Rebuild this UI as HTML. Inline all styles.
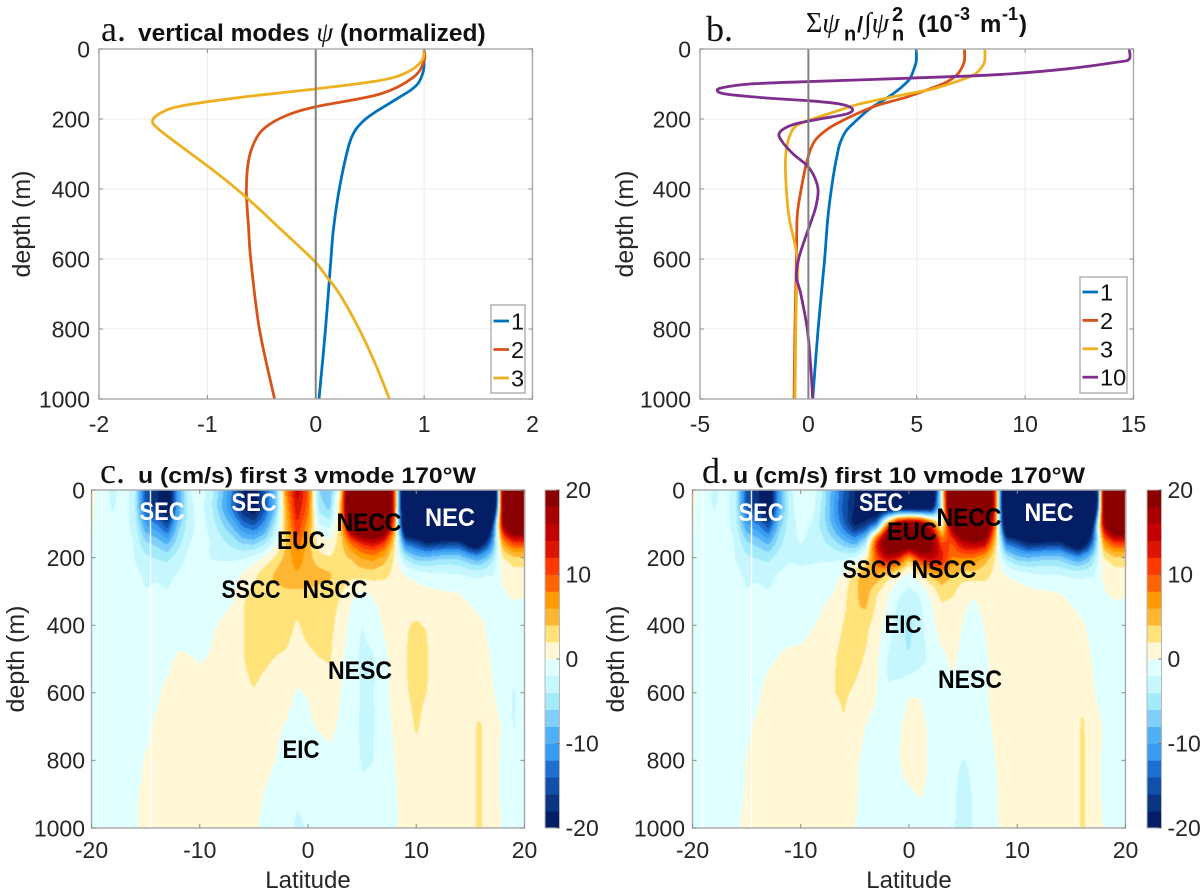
<!DOCTYPE html>
<html lang="en">
<head>
<meta charset="utf-8">
<title>Vertical modes and zonal velocity sections at 170W</title>
<style>
html,body{margin:0;padding:0;background:#fff;}
svg{display:block;font-family:"Liberation Sans",Arial,sans-serif;}
.lab{font-weight:bold;font-size:25px;text-anchor:middle;dominant-baseline:central;}
.blk{fill:#000;}
.wht{fill:#fff;}
.ttl{font-weight:bold;fill:#111;}
.ser{font-family:"Liberation Serif",serif;fill:#111;}
</style>
</head>
<body>
<svg id="figure" xmlns="http://www.w3.org/2000/svg" width="1200" height="895" viewBox="0 0 1200 895">
  <rect x="0" y="0" width="1200" height="895" fill="#fff"/>
  <g id="panel-a"></g>
  <g id="panel-b"></g>
  <g id="panel-c"></g>
  <g id="panel-d"></g>

  <text class="ser" x="101" y="41" font-size="36">a.</text>
  <text class="ttl" x="138" y="41" font-size="24.5">vertical modes <tspan class="ser" font-style="italic" font-weight="normal" font-size="27">ψ</tspan> (normalized)</text>

  <text class="ser" x="706" y="41" font-size="36">b.</text>
  <g>
    <text class="ser" x="806" y="32" font-size="28">Σ<tspan font-style="italic">ψ</tspan></text>
    <text class="ttl" x="844" y="40.5" font-size="20">n</text>
    <text class="ttl" x="857" y="32" font-size="22">/</text>
    <text class="ser" x="864" y="32" font-size="28">∫<tspan font-style="italic">ψ</tspan></text>
    <text class="ttl" x="892" y="21" font-size="20">2</text>
    <text class="ttl" x="892" y="40.5" font-size="20">n</text>
    <text class="ttl" x="918" y="32" font-size="24">(10</text>
    <text class="ttl" x="954" y="20" font-size="18">-3</text>
    <text class="ttl" x="980" y="32" font-size="24">m</text>
    <text class="ttl" x="1002" y="20" font-size="18">-1</text>
    <text class="ttl" x="1019" y="32" font-size="24">)</text>
  </g>

  <text class="ser" x="100" y="483" font-size="36">c.</text>
  <text class="ttl" x="138" y="483" font-size="22" textLength="338" lengthAdjust="spacingAndGlyphs">u (cm/s) first 3 vmode 170°W</text>

  <text class="ser" x="702" y="483" font-size="36">d.</text>
  <text class="ttl" x="733" y="483" font-size="22" textLength="352" lengthAdjust="spacingAndGlyphs">u (cm/s) first 10 vmode 170°W</text>

  <g id="labels">
    <text class="lab wht" x="162" y="512" textLength="45" lengthAdjust="spacingAndGlyphs">SEC</text>
    <text class="lab wht" x="254" y="503" textLength="45" lengthAdjust="spacingAndGlyphs">SEC</text>
    <text class="lab blk" x="301" y="541" textLength="48" lengthAdjust="spacingAndGlyphs">EUC</text>
    <text class="lab blk" x="251" y="590" textLength="59" lengthAdjust="spacingAndGlyphs">SSCC</text>
    <text class="lab blk" x="335" y="590" textLength="65" lengthAdjust="spacingAndGlyphs">NSCC</text>
    <text class="lab blk" x="369" y="523" textLength="65" lengthAdjust="spacingAndGlyphs">NECC</text>
    <text class="lab wht" x="450" y="518" textLength="50" lengthAdjust="spacingAndGlyphs">NEC</text>
    <text class="lab blk" x="360" y="671" textLength="64" lengthAdjust="spacingAndGlyphs">NESC</text>
    <text class="lab blk" x="301" y="750" textLength="37" lengthAdjust="spacingAndGlyphs">EIC</text>
    <text class="lab wht" x="761" y="513" textLength="45" lengthAdjust="spacingAndGlyphs">SEC</text>
    <text class="lab wht" x="881" y="503" textLength="44" lengthAdjust="spacingAndGlyphs">SEC</text>
    <text class="lab blk" x="912" y="532" textLength="50" lengthAdjust="spacingAndGlyphs">EUC</text>
    <text class="lab blk" x="872" y="570" textLength="59" lengthAdjust="spacingAndGlyphs">SSCC</text>
    <text class="lab blk" x="944" y="570" textLength="65" lengthAdjust="spacingAndGlyphs">NSCC</text>
    <text class="lab blk" x="969" y="518" textLength="65" lengthAdjust="spacingAndGlyphs">NECC</text>
    <text class="lab wht" x="1049" y="513" textLength="49" lengthAdjust="spacingAndGlyphs">NEC</text>
    <text class="lab blk" x="903" y="625" textLength="37" lengthAdjust="spacingAndGlyphs">EIC</text>
    <text class="lab blk" x="970" y="680" textLength="64" lengthAdjust="spacingAndGlyphs">NESC</text>
  </g>
</svg>

<script>
// ---------- panel a data: vertical modes ----------
const mode1Depth = [0,40,60,80,100,119,140,162,180,200,220,240,281,395,510,600,800,1000];
const mode1Value = [1,1,.995,.975,.94,.87,.76,.645,.55,.46,.395,.35,.3,.22,.165,.14,.09,.03];
const mode2Depth = [0,33,81,129,165,190,224,262,319,405,510,600,800,1000];
const mode2Value = [1,1,.9,.59,0,-.27,-.465,-.56,-.62,-.64,-.62,-.6,-.52,-.38];
const mode3Depth = [0,33,67,90,114,138,162,181,205,229,281,348,424,519,565,610,650,700,800,900,1000];
const mode3Value = [1,.98,.84,.59,0,-.69,-1.23,-1.42,-1.506,-1.45,-1.23,-.94,-.64,-.31,-.15,0,.1,.22,.4,.55,.68];
const modeXTicks = [-2,-1,0,1,2];
const depthTicks = [0,200,400,600,800,1000];

// ---------- panel b data: normalized sums ----------
const sum1Depth = [0,33,52,86,114,138,171,205,233,260,290,367,481,600,800,1000];
const sum1Value = [4.98,4.98,4.9,4.67,4.2,3.67,2.83,2.2,1.75,1.52,1.37,1.14,.9,.75,.45,.2];
const sum2Depth = [0,33,57,76,95,114,138,162,190,219,240,262,290,320,348,424,481,600,800,1000];
const sum2Value = [7.2,7.2,7.05,6.82,6.36,5.6,4.5,3.13,2.06,1.14,.65,.3,.08,-.06,-.17,-.4,-.52,-.55,-.62,-.66];
const sum3Depth = [0,33,52,73,90,114,133,157,181,200,219,248,300,376,481,600,700,800,1000];
const sum3Value = [8.14,8.14,8,7.66,6.97,5.74,4.2,2.37,1.14,.2,-.55,-.86,-1.04,-1.04,-.89,-.5,-.55,-.58,-.62];
const sum10Depth = [0,29,38,57,73,83,93,100,110,119,129,140,148,157,171,186,200,216,238,262,300,333,367,405,452,490,550,600,650,700,800,900,1000];
const sum10Value = [14.8,14.8,14.2,11.9,8.8,4.8,.06,-2.7,-3.93,-4.2,-3.78,-1.94,.06,1.44,2.03,1.75,.52,-.7,-1.32,-1.24,-.7,-.06,.29,.45,.34,.14,-.2,-.45,-.55,-.35,-.05,.1,.2];
const sumXTicks = [-5,0,5,10,15];

// ---------- panels c, d data: zonal velocity (cm/s) ----------
const latTicks = [-20,-10,0,10,20];
const colorbarTicks = [20,10,0,-10,-20];
const gapLatitudes = [-19.05,-14.55];
const latitudes = [-20,-19,-18,-17,-16,-15,-14,-13,-12,-11,
  -10,-9,-8,-7,-6,-5,-4,-3,-2,-1,
  0,1,2,3,4,5,6,7,8,9,
  10,11,12,13,14,15,
  15.6,16,16.5,17,18,19,20];
const depths = [0,50,100,150,200,250,300,350,400,500,600,700,800,900,1000];

const velocityThreeModes = [
[.6,-1,-2.6,-1,-3,-15,-17,-22,-10,-2.1, -1,-3,-7,-12,-18,-20,-14,-8,8,15, 10,-6,-8,2,30,40,40,40,10,-35, -40,-40,-40,-40,-40,-40, -38,-38,-35,-45,20,40,40],
[.3,-1,-2.3,-1,-3.5,-15,-18,-22,-10,-2.8, -1,-3.5,-8,-13,-19,-21,-15,-8,6,14, 9,-5,-7,4,35,40,40,40,10,-35, -40,-40,-40,-40,-40,-40, -38,-38,-35,-40,20,40,40],
[.2,-1,-1.5,-1,-3,-10,-12,-16,-7,-3, -1.2,-2.6,-5.5,-8.5,-13,-15,-11,-4,5,12, 7,-2,-3,3,25,35,35,30,8,-30, -32,-32,-30,-30,-30,-30, -32,-30,-28,-18,18,30,30],
[.1,-1,-1,-1,-2.2,-6,-7,-9,-5,-2.2, -1.2,-2,-3.5,-5,-7,-7.5,-5.5,-1.5,4,10, 5,1,.5,3,9,13,15,12,3,-14, -16,-20,-19,-18,-18,-24, -26,-22,-18,-12,7,12,12],
[-.5,-1,-1,-1,-2.1,-3.5,-4,-4.5,-3,-1.5, -1.1,-2.2,-2.3,-2.3,-2,-1,.5,2.5,5,7, 5,2.5,2,3,4,6,6.5,5,1.5,-4, -7,-7,-6,-5.5,-6,-8, -9,-8.5,-7,-5,1.5,3,3],
[-1,-1,-1,-1,-1.5,-2.3,-2.5,-2.6,-1.8,-1, -1,-1,-1,-.8,.3,1.5,3.4,4.6,5.5,5.8, 5.5,5,4.6,3.4,2.6,2.8,3,2.5,1.5,.2, -.5,-1,-1.5,-1.6,-1.7,-2, -2.2,-2.3,-1.8,-2,.4,1.2,1.2],
[-.8,-.8,-.8,-.8,-1,-2,-1.5,-2,-1,-.8, -.8,-.7,-.5,-.5,1.7,2.4,2.8,3.5,3.6,3.7, 3.6,3.3,3,2.2,.5,-.3,.2,1,1,.8, .6,.4,.3,.2,.1,-.3, -.4,-.6,-.6,-.8,-.1,.3,.1],
[-.7,-.7,-.7,-.7,-.7,-1,-1,-.9,-.7,-.7, -.6,-.5,-.3,.1,2,2.6,2.9,3.2,3.3,2.5, 3.2,3.3,3,1.5,-.2,-1,-.4,.4,.8,1.2, 1,.6,.4,.3,.2,.1, -.1,-.2,-.3,-.5,-.4,-.2,-.3],
[-.7,-.7,-.7,-.7,-.7,-.7,-.7,-.7,-.6,-.6, -.5,-.2,.2,.7,1.9,2.8,3.1,3.1,2.7,1.7, 2.7,3,2.7,1,-.6,-2.1,-.9,.2,.9,1.8, 2.4,1.9,.7,.5,.4,.3, .2,.2,-.1,-.3,-.5,-.6,-.6],
[-.6,-.6,-.6,-.6,-.6,-.6,-.6,-.3,.2,.1, -.1,.1,.6,1,1.9,2.8,2.4,1.9,1.7,1.2, 1.5,1.95,2.2,.4,-1,-2.5,-2.4,-.5,.7,1.9, 2.8,2.2,.8,.6,.5,.6, .5,.4,.2,-.1,-.5,-1,-.6],
[-.5,-.5,-.5,-.5,-.5,-.5,-.2,.3,.5,.5, .5,.5,.6,.8,1.4,1.9,1.2,.8,.5,-.2, .05,.6,1,0,-1,-2.2,-2.2,-.5,.5,1.8, 2.6,2,.7,.7,.7,.7, 1,1,.6,.1,-.5,-2.3,-.8],
[-.4,-.4,-.4,-.4,-.4,-.3,.2,.4,.5,.5, .5,.5,.5,.5,.5,.5,.4,.2,-.1,-.7, -.2,.1,.3,-.2,-1.1,-2.4,-2.3,-.6,.2,.9, 2.3,1.2,.8,.8,.8,.8, 2.2,2.2,.8,.5,-.1,-2.2,-.6],
[-.4,-.4,-.4,-.4,-.4,.1,.3,.3,.3,.3, .3,.3,.3,.3,.3,.3,.3,0,-.5,-.8, -.6,-.5,-.3,-.4,-1,-2.2,-2.05,-.7,0,.5, 1.2,.8,.7,.7,.7,.7, 2.2,2.2,.8,.4,-.2,-1,-.5],
[-.4,-.4,-.4,-.4,-.1,.2,.3,.3,.3,.3, .3,.3,.3,.3,.3,.3,-.05,-.4,-.6,-1.6, -1,-.8,-.7,-.7,-.9,-1.7,-1.5,-.8,-.1,.3, .6,.6,.7,.7,.7,.7, 2.2,2.2,.7,.4,-.2,-.6,-.4],
[-.4,-.4,-.4,-.4,-.1,.2,.3,.3,.3,.3, .3,.3,.3,.3,.3,.1,-.2,-.6,-1.2,-2.5, -1.9,-1,-.9,-.8,-.8,-1.2,-1,-.7,-.1,.2, .5,.6,.7,.7,.7,.7, 2.2,2.2,.7,.4,-.05,-.4,-.4]
];

const velocityTenModes = [
[.6,-1,-2.5,-1.2,-3,-15,-17,-22,-10,-3, .3,-.6,-4,-9,-14,-18,-24,-26,-32,-36, -36,-36,-30,-2,35,40,40,40,10,-35, -40,-40,-40,-40,-40,-40, -38,-38,-35,-45,20,40,40],
[.3,-1,-2.2,-1.2,-3.5,-15,-18,-22,-10,-3, -.6,-.8,-4.5,-10,-15,-18,-21,-24,-26,-26, -28,-28,-26,-3,35,40,40,40,10,-35, -40,-40,-40,-40,-40,-40, -38,-38,-35,-40,20,40,40],
[.2,-1,-1.7,-1.2,-3,-10,-12,-16,-7,-2.8, -1.4,-2.2,-5,-9,-14,-20,-18,-14,8,22, 26,24,14,-1.5,20,35,35,30,8,-30, -32,-32,-30,-30,-30,-30, -32,-30,-28,-18,18,30,30],
[.1,-1,-1,-1,-2.2,-6,-7,-9,-5,-2.4, -1.9,-2.4,-3.5,-5.5,-8,-10,-5,14,26,30, 30,30,22,10,10,16,18,17,4,-14, -16,-20,-20,-19,-19,-24, -27,-24,-20,-13,7,12,12],
[-.5,-1,-1,-1,-2.1,-3.5,-4,-4.5,-3,-2.2, -2.4,-2.4,-2.3,-2.4,-2.2,-1.5,1,10,16,13, 4,13,16,14,8,8,7.5,5,1.5,-4, -7,-7.5,-6.5,-6,-6.5,-8.5, -10,-9,-7.5,-5,1.5,3,3],
[-.9,-.9,-.9,-.9,-1.5,-2.3,-2.5,-2.6,-1.8,-1.5, -1.6,-1.4,-1.2,-.8,.3,3,6.5,6,3,.6, -.8,1.5,4,6,4,3,3,2.7,1.5,.2, -.5,-1,-1.7,-1.8,-1.9,-2.3, -2.4,-2.3,-2,-2.1,.4,1.2,1.2],
[-.8,-.8,-.8,-.8,-1,-2,-1.5,-2,-1.2,-1, -.9,-.8,-.6,-.1,1.4,3.5,5,2.2,.3,-1.6, -2.5,-1.8,.5,2.8,2.5,.8,.2,.9,1,.8, .6,.4,.3,.2,.1,-.3, -.4,-.6,-.6,-.8,-.1,.3,.1],
[-.7,-.7,-.7,-.7,-.7,-1,-1,-.9,-.7,-.7, -.7,-.6,0,.6,1.6,3.9,4.2,1.6,-.1,-2.4, -3.8,-2.5,-.5,1.6,1.2,.2,-.4,.4,.8,1.2, 1,.6,.4,.3,.2,.1, -.1,-.2,-.3,-.5,-.4,-.2,-.3],
[-.7,-.7,-.7,-.7,-.7,-.7,-.7,-.7,-.6,-.5, -.4,-.1,.3,.8,2.2,3,2.5,1,-.8,-3, -4.8,-2.6,-.8,1,.8,-.1,-.8,.1,.8,1.2, 1,.7,.5,.5,.4,.3, .2,.1,-.1,-.3,-.5,-.6,-.6],
[-.6,-.6,-.6,-.6,-.6,-.6,-.6,-.2,.1,.3, .3,.5,.8,1.7,3,2.7,1.8,.4,-2.1,-3.6, -3.8,-2.6,-1.8,-.5,.4,-.5,-.9,-.3,.5,.7, .7,.7,.7,.7,.7,.7, .5,.4,.2,-.1,-.5,-.7,-.6],
[-.5,-.5,-.5,-.5,-.5,-.5,-.2,.4,.5,.5, .5,.5,.5,2,2.3,1.7,.8,.1,-2,-1, -.05,-.1,-1,-.7,-.5,-.6,-.6,-.2,.5,.7, .7,.7,.7,.7,.7,.7, .8,1.2,.7,.1,-.5,-.7,-.6],
[-.4,-.4,-.4,-.4,-.4,-.2,.2,.4,.4,.4, .4,.4,.4,.9,1.9,.5,-.05,-.5,-.7,-.2, .6,.6,-.3,-.7,-.7,-.9,-.7,-.4,.3,.7, .7,.7,.7,.7,.7,.8, 1.2,2.6,1.2,.6,-.1,-.5,-.5],
[-.4,-.4,-.4,-.4,-.4,.05,.3,.3,.3,.3, .3,.3,.3,.3,.3,.1,-.2,-.5,-.6,-.1, .6,.7,-.3,-.7,-1.4,-2.1,-1.6,-.7,0,.5, .7,.7,.7,.7,.7,.8, 1.2,2.6,1.2,.6,-.2,-.5,-.5],
[-.4,-.4,-.4,-.4,-.2,.05,.3,.3,.3,.3, .3,.3,.3,.3,.3,.1,-.3,-.5,-.6,-.4, -.2,.1,-.3,-.7,-1.6,-2.8,-1.8,-.8,-.1,.4, .7,.7,.7,.7,.7,.8, 1.2,2.6,1.2,.6,-.2,-.5,-.5],
[-.4,-.4,-.4,-.4,-.1,.2,.3,.3,.3,.3, .3,.3,.3,.3,.3,.05,-.4,-.6,-.7,-.7, -.7,-.6,-.6,-.8,-1.6,-3,-1.8,-.8,-.1,.2, .4,.5,.7,.7,.7,.8, 1.2,2.6,1.2,.5,-.05,-.4,-.4]
];

const bandColors = ['#041e66','#0a3580','#1050a8','#1f6fd0','#3a9cf0','#50b0f5','#80cffa','#a3ebfb','#c6f7ff','#e0ffff',
  '#fff7d6','#ffe37a','#ffb733','#ff9a00','#ff6400','#ff3a00','#dc1400','#c40000','#a80000','#8a0000'];

// ---------- helpers ----------
const NS = 'http://www.w3.org/2000/svg';
const AXIS_COLOR = '#a8a8a8';
const TEXT_COLOR = '#262626';

function node(tag, parent, attrs) {
  const el = document.createElementNS(NS, tag);
  for (const k in attrs) el.setAttribute(k, attrs[k]);
  parent.appendChild(el);
  return el;
}
function linear(d0, d1, r0, r1) {
  const f = v => r0 + (v - d0) / (d1 - d0) * (r1 - r0);
  f.invert = p => d0 + (p - r0) / (r1 - r0) * (d1 - d0);
  return f;
}
function smoothPath(pts) {
  let d = 'M' + pts[0][0].toFixed(2) + ' ' + pts[0][1].toFixed(2);
  for (let i = 0; i < pts.length - 1; i++) {
    const p0 = pts[Math.max(i - 1, 0)], p1 = pts[i], p2 = pts[i + 1], p3 = pts[Math.min(i + 2, pts.length - 1)];
    const c1 = [p1[0] + (p2[0] - p0[0]) / 6, p1[1] + (p2[1] - p0[1]) / 6];
    const c2 = [p2[0] - (p3[0] - p1[0]) / 6, p2[1] - (p3[1] - p1[1]) / 6];
    d += 'C' + c1[0].toFixed(2) + ' ' + c1[1].toFixed(2) + ' ' + c2[0].toFixed(2) + ' ' + c2[1].toFixed(2) + ' ' + p2[0].toFixed(2) + ' ' + p2[1].toFixed(2);
  }
  return d;
}
function bracket(arr, v) {
  let i = 0;
  while (i < arr.length - 2 && arr[i + 1] < v) i++;
  return i;
}
function sample(grid, lat, depth) {
  const i = bracket(latitudes, lat), j = bracket(depths, depth);
  const tx = Math.min(1, Math.max(0, (lat - latitudes[i]) / (latitudes[i + 1] - latitudes[i])));
  const ty = Math.min(1, Math.max(0, (depth - depths[j]) / (depths[j + 1] - depths[j])));
  const top = grid[j][i] * (1 - tx) + grid[j][i + 1] * tx;
  const bot = grid[j + 1][i] * (1 - tx) + grid[j + 1][i + 1] * tx;
  return top * (1 - ty) + bot * ty;
}
function bandIndex(v) {
  return Math.max(0, Math.min(bandColors.length - 1, Math.floor(v / 2) + 10));
}
// Resample the velocity grid onto pixels and soften the grid kinks so contours read as smooth curves.
function smoothRaster(grid, o, W, H, X0, Y0) {
  let a = new Float32Array(W * H);
  for (let r = 0; r < H; r++) {
    const depth = o.ys.invert(Y0 + r + 0.5);
    for (let c = 0; c < W; c++) {
      const v = sample(grid, o.xs.invert(X0 + c + 0.5), depth);
      a[r * W + c] = Math.max(-26, Math.min(26, v));
    }
  }
  const passes = [[1, 0, 1], [0, 1, 5], [0, 1, 5]];
  passes.forEach(p => {
    const rad = p[2], b = new Float32Array(W * H);
    for (let r = 0; r < H; r++) {
      for (let c = 0; c < W; c++) {
        let s = 0;
        for (let k = -rad; k <= rad; k++) {
          const cc = Math.max(0, Math.min(W - 1, c + k * p[0]));
          const rr = Math.max(0, Math.min(H - 1, r + k * p[1]));
          s += a[rr * W + cc];
        }
        b[r * W + c] = s / (2 * rad + 1);
      }
    }
    a = b;
  });
  return a;
}

function drawAxes(g, o) {
  if (o.grid) {
    o.xTicks.forEach(t => {
      if (t === o.xTicks[0] || t === o.xTicks[o.xTicks.length - 1]) return;
      const gl = node('line', g, {x1: o.xs(t), x2: o.xs(t), y1: o.y0, y2: o.y1, stroke: '#ececec', 'stroke-width': 1});
      
      
    });
    o.yTicks.forEach(t => {
      if (t === 0 || t === 1000) return;
      const gl = node('line', g, {x1: o.x0, x2: o.x1, y1: o.ys(t), y2: o.ys(t), stroke: '#ececec', 'stroke-width': 1});
      
      
    });
  }
}
function drawFrame(g, o) {
  const box = node('rect', g, {x: o.x0, y: o.y0, width: o.x1 - o.x0, height: o.y1 - o.y0, fill: 'none', stroke: AXIS_COLOR, 'stroke-width': 1.4});
  
  
  o.xTicks.forEach(t => {
    const x = o.xs(t);
    const tk = node('path', g, {d: 'M' + x + ' ' + o.y1 + 'v-4M' + x + ' ' + o.y0 + 'v4', stroke: '#8c8c8c', 'stroke-width': 1, fill: 'none'});
    
    
    const lb = node('text', g, {x: x, y: o.xBaseline, 'text-anchor': 'middle', 'font-size': o.fontSize, fill: TEXT_COLOR});
    
    
    lb.textContent = t;
  });
  o.yTicks.forEach(t => {
    const y = o.ys(t);
    const tk = node('path', g, {d: 'M' + o.x0 + ' ' + y + 'h4M' + o.x1 + ' ' + y + 'h-4', stroke: '#8c8c8c', 'stroke-width': 1, fill: 'none'});
    
    
    const lb = node('text', g, {x: o.yLabelX, y: y + o.fontSize * 0.36, 'text-anchor': 'end', 'font-size': o.fontSize, fill: TEXT_COLOR});
    
    
    lb.textContent = t;
  });
  const cy = (o.y0 + o.y1) / 2;
  const yt = node('text', g, {x: o.yTitleX, y: cy, 'text-anchor': 'middle', 'font-size': 25, fill: TEXT_COLOR, transform: 'rotate(-90 ' + o.yTitleX + ' ' + cy + ')'});
  
  
  yt.textContent = 'depth (m)';
}

function drawLinePanel(id, o, series, legend) {
  const g = document.getElementById(id);
  drawAxes(g, o);
  const clipId = id + '-clip';
  const defs = node('defs', g, {});
  const cp = node('clipPath', defs, {id: clipId});
  node('rect', cp, {x: o.x0, y: o.y0, width: o.x1 - o.x0, height: o.y1 - o.y0});
  series.forEach(s => {
    const pts = s.depth.map((d, i) => [o.xs(s.value[i]), o.ys(d)]);
    const p = node('path', g, {d: smoothPath(pts), fill: 'none', stroke: s.color, 'stroke-width': 2.8, 'clip-path': 'url(#' + clipId + ')', 'stroke-linejoin': 'round'});
    
    
  });
  const zero = node('line', g, {x1: o.xs(0), x2: o.xs(0), y1: o.y0, y2: o.y1, stroke: '#808080', 'stroke-width': 2});
  
  
  drawFrame(g, o);
  const lg = node('g', g, {});
  
  
  const lbox = node('rect', lg, {x: legend.x, y: legend.y, width: legend.w, height: legend.h, fill: '#fff', stroke: '#a0a0a0', 'stroke-width': 1.2});
  
  
  series.forEach((s, i) => {
    const yy = legend.first + i * legend.step;
    const sw = node('line', lg, {x1: legend.x + 2.5, x2: legend.x + 18, y1: yy, y2: yy, stroke: s.color, 'stroke-width': 2.8});
    
    
    const tx = node('text', lg, {x: legend.x + 20, y: yy + 8.5, 'font-size': 23.5, fill: '#111'});
    
    
    tx.textContent = s.name;
  });
}

function drawContourPanel(id, o, grid, cb) {
  const g = document.getElementById(id);
  const field = node('g', g, {'shape-rendering': 'crispEdges', style: 'filter:blur(0.45px)'});
  
  
  const paths = bandColors.map(() => []);
  const x0 = Math.round(o.x0), x1 = Math.round(o.x1), y0 = Math.round(o.y0), y1 = Math.round(o.y1);
  const W = x1 - x0, H = y1 - y0;
  const raster = smoothRaster(grid, o, W, H, x0, y0);
  for (let r = 0; r < H; r++) {
    const py = y0 + r;
    let start = x0, cur = bandIndex(raster[r * W]);
    for (let c = 1; c <= W; c++) {
      const b = c < W ? bandIndex(raster[r * W + c]) : -1;
      if (b !== cur) {
        const px = x0 + c;
        paths[cur].push('M' + start + ' ' + py + 'H' + px + 'V' + (py + 1) + 'H' + start + 'Z');
        start = px;
        cur = b;
      }
    }
  }
  paths.forEach((segs, i) => {
    if (!segs.length) return;
    const p = node('path', field, {d: segs.join(''), fill: bandColors[i]});
    
    
  });
  gapLatitudes.forEach(lat => {
    const l = node('line', g, {x1: o.xs(lat), x2: o.xs(lat), y1: o.y0, y2: o.y1, stroke: '#fff', 'stroke-width': 1.4, opacity: .9});
    
    
  });
  drawFrame(g, o);
  const xt = node('text', g, {x: (o.x0 + o.x1) / 2, y: 888, 'text-anchor': 'middle', 'font-size': 24, fill: TEXT_COLOR});
  
  
  xt.textContent = 'Latitude';

  // colorbar
  const bar = node('g', g, {});
  
  
  const cs = linear(-20, 20, o.y1, o.y0);
  bandColors.forEach((c, i) => {
    const lo = i * 2 - 20;
    const r = node('rect', bar, {x: cb.x, y: cs(lo + 2), width: cb.w, height: cs(lo) - cs(lo + 2) + 0.3, fill: c});
    
    
  });
  const cbox = node('rect', bar, {x: cb.x, y: o.y0, width: cb.w, height: o.y1 - o.y0, fill: 'none', stroke: '#b8b8b8', 'stroke-width': 1});
  
  
  colorbarTicks.forEach(t => {
    const tk = node('line', bar, {x1: cb.x + cb.w - 3, x2: cb.x + cb.w, y1: cs(t), y2: cs(t), stroke: '#777', 'stroke-width': 1});
    
    
    const lb = node('text', bar, {x: cb.x + cb.w + 6, y: cs(t) + 8, 'font-size': 23, fill: TEXT_COLOR});
    
    
    lb.textContent = t;
  });
}

// ---------- build ----------
const blue = '#0072BD', red = '#D95319', gold = '#EDB120', purple = '#7E2F8E';

drawLinePanel('panel-a', {
  prefix: 'panel-a', x0: 99, x1: 532.5, y0: 49, y1: 399,
  xs: linear(-2, 2, 99, 532.5), ys: linear(0, 1000, 49, 399),
  xTicks: modeXTicks, yTicks: depthTicks, fontSize: 23, grid: true,
  yLabelX: 90, yTitleX: 30, xBaseline: 432
}, [
  {name: '1', color: blue, depth: mode1Depth, value: mode1Value},
  {name: '2', color: red, depth: mode2Depth, value: mode2Value},
  {name: '3', color: gold, depth: mode3Depth, value: mode3Value}
], {x: 491, y: 305, w: 34, h: 88, first: 321, step: 28.5});

drawLinePanel('panel-b', {
  prefix: 'panel-b', x0: 700, x1: 1133.5, y0: 49, y1: 399,
  xs: linear(-5, 15, 700, 1133.5), ys: linear(0, 1000, 49, 399),
  xTicks: sumXTicks, yTicks: depthTicks, fontSize: 23, grid: true,
  yLabelX: 691, yTitleX: 633, xBaseline: 432
}, [
  {name: '1', color: blue, depth: sum1Depth, value: sum1Value},
  {name: '2', color: red, depth: sum2Depth, value: sum2Value},
  {name: '3', color: gold, depth: sum3Depth, value: sum3Value},
  {name: '10', color: purple, depth: sum10Depth, value: sum10Value}
], {x: 1080, y: 277, w: 47, h: 116, first: 292, step: 28.4});

drawContourPanel('panel-c', {
  prefix: 'panel-c', x0: 91.5, x1: 524.5, y0: 490, y1: 828,
  xs: linear(-20, 20, 91.5, 524.5), ys: linear(0, 1000, 490, 828),
  xTicks: latTicks, yTicks: depthTicks, fontSize: 23,
  yLabelX: 85, yTitleX: 24, xBaseline: 858
}, velocityThreeModes, {x: 545, w: 14.5});

drawContourPanel('panel-d', {
  prefix: 'panel-d', x0: 692.5, x1: 1125.5, y0: 490, y1: 828,
  xs: linear(-20, 20, 692.5, 1125.5), ys: linear(0, 1000, 490, 828),
  xTicks: latTicks, yTicks: depthTicks, fontSize: 23,
  yLabelX: 685, yTitleX: 624, xBaseline: 858
}, velocityTenModes, {x: 1147, w: 14.5});
</script>
</body>
</html>
